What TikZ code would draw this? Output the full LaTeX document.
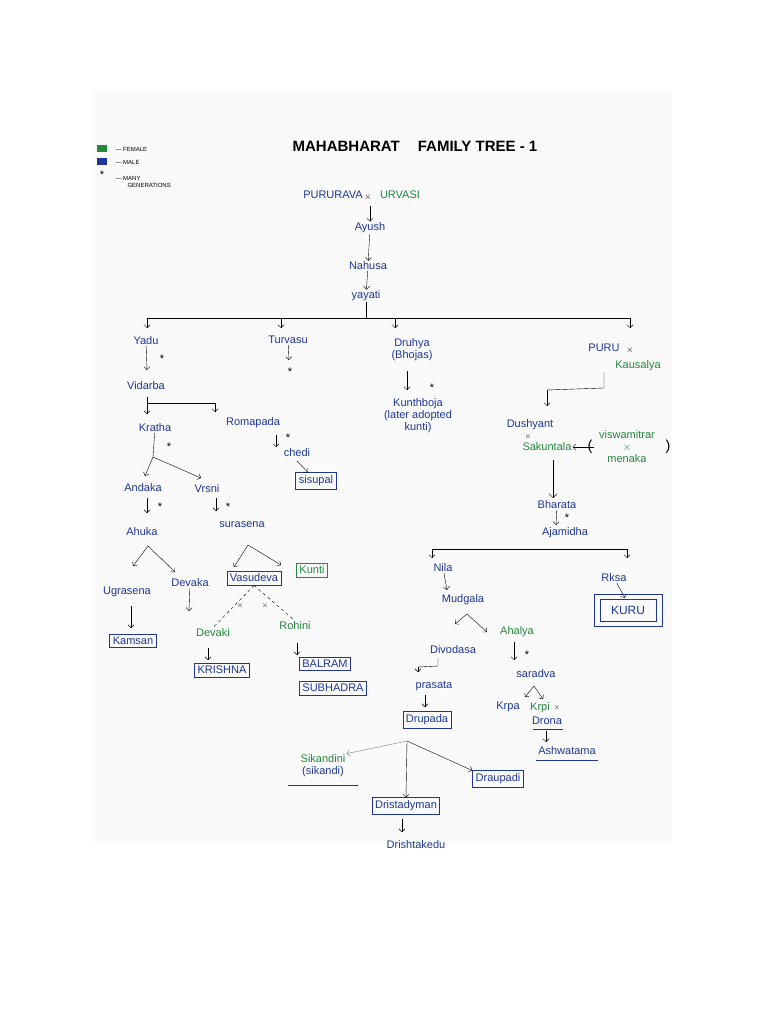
\documentclass[tikz,border=0pt]{standalone}
\usepackage{fontspec}
\setmainfont{Liberation Sans}
\usetikzlibrary{arrows.meta}
\definecolor{bl}{RGB}{30,55,150}
\definecolor{gr}{RGB}{35,135,60}
\tikzset{
 m/.style={text=bl,font=\fontsize{11}{12}\selectfont,inner sep=1pt},
 f/.style={text=gr,font=\fontsize{11}{12}\selectfont,inner sep=1pt},
 mb/.style={m,draw=bl,thick,inner sep=3pt},
 fb/.style={f,draw=gr,thick,inner sep=3pt},
 ar/.style={-{Straight Barb[length=3pt]},black,thin},
 st/.style={font=\fontsize{11}{11}\selectfont,inner sep=0pt},
}
\begin{document}
\begin{tikzpicture}[x=1pt,y=-1pt]
\useasboundingbox (0,0) rectangle (768,1024);
\fill[gray!4] (93,90) rectangle (672,843);
% legend
\fill[gr] (97,145) rectangle (107,152);
\fill[bl] (97,158) rectangle (107,165);
\node[st] (lstar) at (102,175) {*};
\node[anchor=west,font=\fontsize{6}{7}\selectfont] (lf) at (112,149) {— FEMALE};
\node[anchor=west,font=\fontsize{6}{7}\selectfont] (lm) at (112,162) {— MALE};
\node[anchor=west,font=\fontsize{6}{7}\selectfont,align=left] (lg) at (112,182) {— MANY\\\hspace*{12pt}GENERATIONS};
\node[font=\fontsize{15}{16}\selectfont\bfseries] (title) at (415,146) {MAHABHARAT\hspace{18pt}FAMILY TREE - 1};
% top
\node[m] (pur) at (333,195) {PURURAVA};
\node[st,font=\small] (x1) at (368,197) {$\times$};
\node[f] (urv) at (400,195) {URVASI};
\node[m] (ayu) at (370,228) {Ayush};
\node[m] (nah) at (368,266) {Nahusa};
\node[m] (yay) at (366,296) {yayati};
\draw[ar] (370,206) -- (ayu);
\draw[ar] (ayu) -- (nah);
\draw[ar] (nah) -- (yay);
\coordinate (bar) at (366,318);
\draw (yay) -- (bar);
\draw (147,318) -- (630,318);
\node[m] (yad) at (146,341) {Yadu};
\node[m] (tur) at (288,340) {Turvasu};
\node[m,align=center] (dru) at (412,350) {Druhya\\(Bhojas)};
\node[m] (puru) at (604,348) {PURU};
\node[st,font=\small] (x2) at (630,350) {$\times$};
\node[f] (kau) at (638,366) {Kausalya};
\foreach \xx/\n in {147/yad,281/tur,395/dru,630/puru} \draw[ar] (\xx,318) -- (\xx,328);
% Yadu line
\draw[ar] (yad) -- (147,370);
\node[st] (s1) at (162,359) {*};
\node[m] (vid) at (146,386) {Vidarba};
\draw (147,397) -- (147,403) -- (215,403);
\draw[ar] (147,403) -- (147,414);
\draw[ar] (215,403) -- (215,412);
\node[m] (kra) at (155,428) {Kratha};
\node[m] (rom) at (253,423) {Romapada};
\draw[ar] (tur) -- (289,360);
\node[st] (s2) at (290,372) {*};
\draw[ar] (407,371) -- (407,390);
\node[st] (s3) at (432,388) {*};
\node[m,align=center] (kun) at (418,416) {Kunthboja\\(later adopted\\kunti)};
\node[st] (s4) at (169,447) {*};
\coordinate (kj) at (153,457);
\draw (kra) -- (kj);
\node[m] (and) at (143,488) {Andaka};
\node[m] (vrs) at (207,489) {Vrsni};
\draw[ar] (kj) -- (145,476);
\draw[ar] (kj) -- (201,478);
\draw[ar] (rom) ++(23,12) -- ++(0,12);
\node[st] (s5) at (288,438) {*};
\node[m] (che) at (297,453) {chedi};
\node[mb] (sis) at (316,481) {sisupal};
\draw[ar] (297,461) -- (sis);
\draw[ar] (147,498) -- (147,513);
\node[st] (s6) at (160,507) {*};
\node[m] (ahu) at (142,532) {Ahuka};
\draw[ar] (216,498) -- (216,511);
\node[st] (s7) at (228,507) {*};
\node[m] (sur) at (242,525) {surasena};
\coordinate (aj) at (148,546);
\draw[ar] (aj) -- (133,566);
\draw[ar] (aj) -- (175,572);
\node[m] (ugr) at (127,592) {Ugrasena};
\node[m] (dev) at (190,583) {Devaka};
\draw[ar] (131,606) -- (131,628);
\node[mb] (kam) at (133,641) {Kamsan};
\draw[ar] (dev) -- (189,611);
\coordinate (sj) at (248,545);
\draw[ar] (sj) -- (234,567);
\draw[ar] (sj) -- (281,565);
\node[mb] (vas) at (254,578) {Vasudeva};
\node[fb] (knt) at (312,570) {Kunti};
\node[f] (dvk) at (213,633) {Devaki};
\node[f] (roh) at (295,626) {Rohini};
\draw[dashed] (vas.south) -- (dvk.north);
\draw[dashed] (vas.south) -- (roh.north);
\node[st,font=\scriptsize] (x3) at (240,606) {$\times$};
\node[st,font=\scriptsize] (x4) at (265,606) {$\times$};
\node[mb] (kri) at (222,670) {KRISHNA};
\node[mb] (bal) at (325,664) {BALRAM};
\node[mb] (sub) at (333,688) {SUBHADRA};
\draw[ar] (208,648) -- (208,660);
\draw[ar] (297,643) -- (297,655);
% right side
\draw (604,372) -- (604,388) -- (547,390);
\draw[ar] (547,390) -- (547,406);
\node[m] (dus) at (530,425) {Dushyant};
\node[st,font=\scriptsize] (x5) at (528,437) {$\times$};
\node[f] (sak) at (547,447) {Sakuntala};
\node[f,align=center] (vis) at (627,447) {viswamitrar\\$\times$\\menaka};
\node[st,font=\Large,text=black] (p1) at (590,447) {(};
\node[st,font=\Large,text=black] (p2) at (668,447) {)};
\draw[ar] (594,447) -- (sak);
\draw[-{Straight Barb[length=4pt]}] (553,460) -- (553,498);
\node[m] (bha) at (557,505) {Bharata};
\draw[ar] (bha) -- (556,525);
\node[st] (s8) at (567,518) {*};
\node[m] (aja) at (565,533) {Ajamidha};
\draw (432,549) -- (627,549);
\draw[ar] (432,549) -- (432,558);
\draw[ar] (627,549) -- (627,558);
\node[m] (nil) at (443,568) {Nila};
\node[m] (rks) at (614,578) {Rksa};
\draw[ar] (nil) -- (447,590);
\node[m] (mud) at (463,600) {Mudgala};
\draw[ar] (rks) -- (625,598);
\node[draw=bl,thick,minimum width=68pt,minimum height=32pt] (kurb) at (628,610) {};
\node[mb,font=\fontsize{12}{13}\selectfont,minimum width=56pt,minimum height=22pt] (kuru) at (628,610) {KURU};
\coordinate (mj) at (467,614);
\draw[ar] (mj) -- (455,624);
\draw[ar] (mj) -- (487,632);
\node[f] (aha) at (517,632) {Ahalya};
\node[m] (div) at (453,650) {Divodasa};
\draw (438,658) -- (438,666) -- (418,667);
\draw[ar] (418,667) -- (418,672);
\node[m] (pra) at (434,686) {prasata};
\draw[ar] (425,695) -- (425,707);
\node[mb] (drp) at (427,720) {Drupada};
\draw[ar] (514,642) -- (514,660);
\node[st] (s9) at (527,655) {*};
\node[m] (sar) at (536,674) {saradva};
\coordinate (saj) at (534,686);
\draw[ar] (saj) -- (525,697);
\draw[ar] (saj) -- (543,699);
\node[m] (krp) at (508,707) {Krpa};
\node[f] (kpi) at (540,708) {Krpi};
\node[st,font=\scriptsize] (x6) at (557,708) {$\times$};
\node[m] (dro) at (547,721) {Drona};
\draw[bl] (533,729) -- (563,729);
\draw[ar] (546,731) -- (546,742);
\node[m] (ash) at (567,751) {Ashwatama};
\draw[bl] (536,760) -- (598,760);
\coordinate (dj) at (407,741);
\node[f,align=center] (sik) at (323,766) {Sikandini\\{\color{bl}(sikandi)}};
\draw[bl] (288,785) -- (358,785);
\node[mb] (drd) at (498,779) {Draupadi};
\node[mb] (dri) at (406,806) {Dristadyman};
\draw[ar,gray] (dj) -- (sik.north east);
\draw[ar] (dj) -- (dri.north);
\draw[ar] (dj) -- (drd.north west);
\draw[ar] (402,819) -- (402,832);
\node[m] (dke) at (416,845) {Drishtakedu};
\end{tikzpicture}
\end{document}
